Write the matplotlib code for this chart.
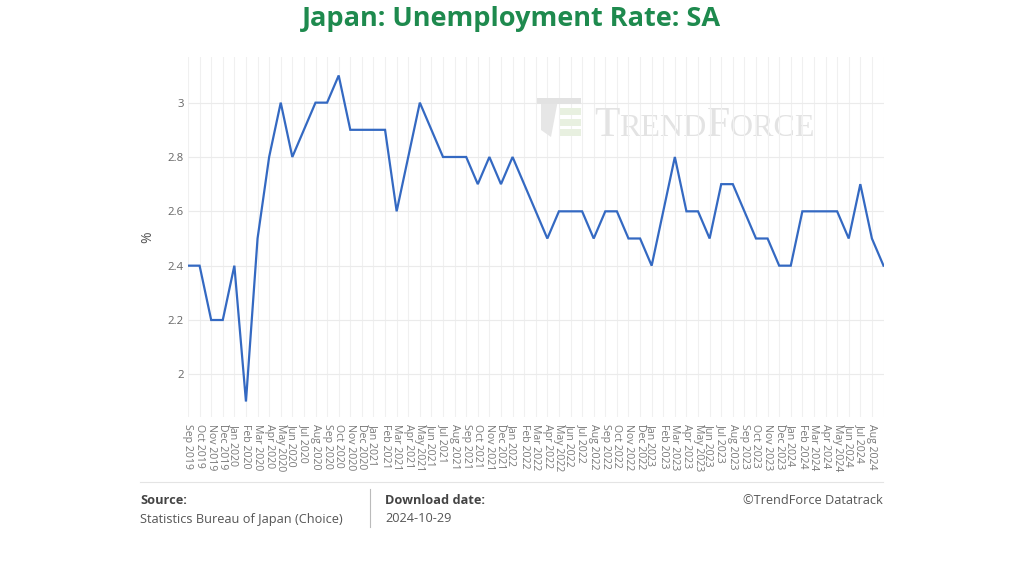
import matplotlib
matplotlib.use("Agg")
import matplotlib.pyplot as plt
from matplotlib.patches import Polygon, Rectangle
from matplotlib.lines import Line2D
from matplotlib.text import Annotation

plt.rcParams['font.family'] = ['Open Sans', 'DejaVu Sans']

months = ["Sep 2019", "Oct 2019", "Nov 2019", "Dec 2019",
          "Jan 2020", "Feb 2020", "Mar 2020", "Apr 2020", "May 2020", "Jun 2020",
          "Jul 2020", "Aug 2020", "Sep 2020", "Oct 2020", "Nov 2020", "Dec 2020",
          "Jan 2021", "Feb 2021", "Mar 2021", "Apr 2021", "May 2021", "Jun 2021",
          "Jul 2021", "Aug 2021", "Sep 2021", "Oct 2021", "Nov 2021", "Dec 2021",
          "Jan 2022", "Feb 2022", "Mar 2022", "Apr 2022", "May 2022", "Jun 2022",
          "Jul 2022", "Aug 2022", "Sep 2022", "Oct 2022", "Nov 2022", "Dec 2022",
          "Jan 2023", "Feb 2023", "Mar 2023", "Apr 2023", "May 2023", "Jun 2023",
          "Jul 2023", "Aug 2023", "Sep 2023", "Oct 2023", "Nov 2023", "Dec 2023",
          "Jan 2024", "Feb 2024", "Mar 2024", "Apr 2024", "May 2024", "Jun 2024",
          "Jul 2024", "Aug 2024", "Sep 2024"]

unemployment = [2.4, 2.4, 2.2, 2.2,
                2.4, 1.9, 2.5, 2.8, 3.0, 2.8, 2.9, 3.0, 3.0, 3.1, 2.9, 2.9,
                2.9, 2.9, 2.6, 2.8, 3.0, 2.9, 2.8, 2.8, 2.8, 2.7, 2.8, 2.7,
                2.8, 2.7, 2.6, 2.5, 2.6, 2.6, 2.6, 2.5, 2.6, 2.6, 2.5, 2.5,
                2.4, 2.6, 2.8, 2.6, 2.6, 2.5, 2.7, 2.7, 2.6, 2.5, 2.5, 2.4,
                2.4, 2.6, 2.6, 2.6, 2.6, 2.5, 2.7, 2.5, 2.4]

tick_labels = months[:-1]
y_ticks = [2, 2.2, 2.4, 2.6, 2.8, 3]
y_tick_labels = ["2", "2.2", "2.4", "2.6", "2.8", "3"]

W, H = 1024, 576
fig = plt.figure(figsize=(W / 100, H / 100), dpi=100)
fig.patch.set_facecolor("white")

def fx(px):
    return px / W

def fy(py):
    return 1 - py / H

# watermark (behind the plot)
logo_gray = Polygon([[fx(541), fy(100)], [fx(558), fy(100)], [fx(551), fy(137)], [fx(541), fy(130)]],
                    closed=True, transform=fig.transFigure, facecolor="#e6e6e6", edgecolor="none", zorder=0)
fig.patches.append(logo_gray)
logo_top = Rectangle((fx(537), fy(104)), fx(581) - fx(537), fy(98) - fy(104),
                     transform=fig.transFigure, facecolor="#e2e2e2", edgecolor="none", zorder=0)
fig.patches.append(logo_top)
for (y0, y1) in [(108, 115), (119, 126), (129, 136)]:
    r = Rectangle((fx(560), fy(y1)), fx(581) - fx(560), fy(y0) - fy(y1),
                  transform=fig.transFigure, facecolor="#e8f0e0", edgecolor="none", zorder=0)
    fig.patches.append(r)
wm_col = "#e3e3e3"
wm_font = "Liberation Serif"
base = fy(136)
prev = fig.text(fx(594), base, "T", fontsize=30, family=wm_font, color=wm_col,
                va="baseline", zorder=0)
for txt, size in [("REND", 23), ("F", 30), ("ORCE", 23)]:
    prev = fig.add_artist(Annotation(
        txt, xy=(1, base), xycoords=(prev, "figure fraction"),
        fontsize=size, family=wm_font, color=wm_col, va="baseline", ha="left", zorder=0))

ax = fig.add_axes([fx(188), fy(417), fx(883.5) - fx(188), fy(57) - fy(417)])
ax.patch.set_alpha(0)
x = list(range(len(months)))
ax.plot(x, unemployment, color="#3469c2", lw=1.6, solid_joinstyle="miter", zorder=3)

ax.set_xlim(0, len(months) - 1)
ax.set_ylim(1.843, 3.168)
ax.set_xticks(x[:-1])
ax.set_xticklabels(tick_labels, rotation=-90, ha="center", va="top",
                   fontsize=7.6, color="#777777")
ax.set_yticks(y_ticks)
ax.set_yticklabels(y_tick_labels, fontsize=8.2, color="#666666")
ax.tick_params(axis="both", which="both", length=0)
ax.tick_params(axis="x", pad=5)
ax.tick_params(axis="y", pad=3)
ax.grid(True, which="major", axis="y", color="#ebebeb", lw=0.8)
ax.grid(True, which="major", axis="x", color="#f0f0f0", lw=0.8)
ax.axvline(len(months) - 1, color="#f0f0f0", lw=0.8, zorder=0)
for s in ax.spines.values():
    s.set_visible(False)
ax.set_ylabel("%", fontsize=10, color="#555555", labelpad=9)

# title
fig.text(0.5, fy(19), "Japan: Unemployment Rate: SA", ha="center", va="center",
         fontsize=19.5, fontweight="bold", color="#1e8a4e")

# footer
fig.add_artist(Line2D([fx(140), fx(883)], [fy(482), fy(482)], transform=fig.transFigure,
                      color="#e4e4e4", lw=0.8))
fig.add_artist(Line2D([fx(370), fx(370)], [fy(489), fy(527)], transform=fig.transFigure,
                      color="#bbbbbb", lw=0.8))
fs = 9.2
fig.text(fx(140), fy(500), "Source:", ha="left", va="center", fontsize=fs,
         fontweight="bold", color="#444444")
fig.text(fx(140), fy(519), "Statistics Bureau of Japan (Choice)", ha="left", va="center",
         fontsize=fs, color="#555555")
fig.text(fx(385), fy(500), "Download date:", ha="left", va="center", fontsize=fs,
         fontweight="bold", color="#444444")
fig.text(fx(385), fy(519), "2024-10-29", ha="left", va="center", fontsize=fs, color="#555555")
fig.text(fx(883), fy(500), "©TrendForce Datatrack", ha="right", va="center", fontsize=fs,
         color="#555555")

fig.savefig("out.png", dpi=100, facecolor="white")
